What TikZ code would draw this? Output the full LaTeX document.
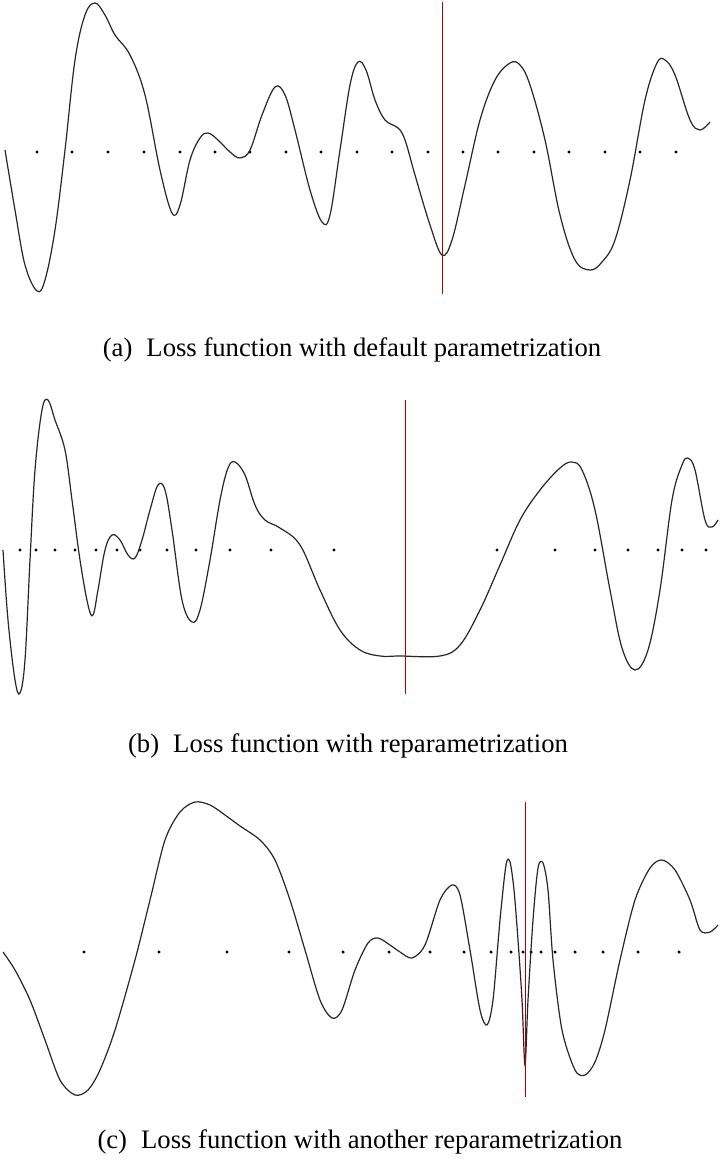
\documentclass[tikz,border=0pt]{standalone}
\usepackage{fontspec}
\setmainfont{Liberation Serif}
\begin{document}
\begin{tikzpicture}[x=0.75pt,y=-0.75pt,
 curve/.style={draw=black!85,line width=0.9pt},
 redline/.style={draw=red!70!black,line width=0.6pt},
 dot/.style={fill=black,circle,inner sep=0pt,minimum size=2.6pt},
 captext/.style={font=\fontsize{20}{24}\selectfont,anchor=center}]
\useasboundingbox (0,0) rectangle (725,1166);
% (a)
\foreach \x in {37,72,108,144,180,215,250,286,321,357,392,428,463,498,534,569,605,640,676} \node[dot] at (\x,152) {};
\draw[curve] plot[smooth,tension=0.6] coordinates {(5,150)(15,210)(25,265)(37,291)(45,280)(55,230)(65,150)(75,60)(85,15)(95,3)(105,15)(115,35)(130,55)(145,95)(160,170)(172,213)(180,205)(190,160)(200,138)(208,133)(218,140)(230,152)(240,158)(250,150)(262,115)(275,87)(285,95)(295,130)(310,190)(322,222)(330,215)(340,150)(350,85)(358,62)(366,70)(375,100)(385,120)(398,128)(405,140)(415,175)(430,225)(442,255)(452,240)(465,185)(480,120)(495,80)(510,63)(520,65)(530,85)(545,140)(560,215)(575,260)(590,270)(602,262)(615,240)(630,180)(645,100)(657,63)(665,60)(675,75)(690,120)(700,130)(710,122)};
\coordinate (ra1) at (442,2); \coordinate (ra2) at (442,294);
\draw[redline] (ra1) -- (ra2);
\node[captext] (ca) at (352,350) {(a)\; Loss function with default parametrization};
% (b)
\foreach \x in {20,36,55,75,96,117,140,167,196,230,271,334,497,555,595,628,658,682,706} \node[dot] at (\x,550) {};
\draw[curve] plot[smooth,tension=0.6] coordinates {(3,550)(8,620)(15,680)(20,693)(25,660)(30,560)(35,470)(42,410)(48,400)(55,420)(65,450)(72,500)(80,560)(88,605)(93,615)(98,590)(105,550)(112,535)(120,540)(128,555)(135,558)(142,540)(150,510)(158,485)(165,490)(172,530)(182,600)(192,622)(200,610)(210,560)(220,500)(228,468)(235,462)(245,475)(255,505)(265,520)(280,528)(300,545)(320,590)(340,630)(360,650)(380,656)(400,656)(440,656)(460,645)(480,610)(500,565)(520,520)(540,490)(560,468)(572,462)(582,470)(595,510)(610,590)(622,648)(635,670)(648,650)(660,590)(672,500)(682,465)(688,458)(695,470)(705,520)(712,527)(718,520)};
\coordinate (rb1) at (405,400); \coordinate (rb2) at (405,694);
\draw[redline] (rb1) -- (rb2);
\node[captext] (cb) at (348,746) {(b)\; Loss function with reparametrization};
% (c)
\foreach \x in {84,159,227,289,343,389,430,464,491,511,523,531,541,555,575,603,638,679} \node[dot] at (\x,952) {};
\draw[curve] plot[smooth,tension=0.5] coordinates {(3,952)(15,970)(30,1000)(45,1040)(60,1080)(75,1095)(88,1090)(100,1070)(115,1030)(135,960)(150,900)(165,840)(180,812)(195,802)(210,805)(225,815)(240,826)(260,840)(275,860)(290,900)(305,950)(320,1000)(332,1018)(342,1010)(355,970)(368,943)(378,938)(390,945)(400,952)(412,958)(425,945)(440,900)(452,885)(460,895)(470,950)(480,1010)(487,1025)(493,1000)(500,920)(506,865)(510,862)(514,890)(518,940)(522,1000)(525,1065)(528,1000)(533,920)(538,868)(543,863)(548,890)(553,960)(562,1030)(575,1070)(585,1075)(595,1062)(605,1030)(620,960)(635,900)(650,868)(662,860)(675,870)(690,900)(700,930)(710,932)(718,925)};
\coordinate (rc1) at (525,802); \coordinate (rc2) at (525,1097);
\draw[redline] (rc1) -- (rc2);
\node[captext] (cc) at (360,1142) {(c)\; Loss function with another reparametrization};
\end{tikzpicture}
\end{document}
